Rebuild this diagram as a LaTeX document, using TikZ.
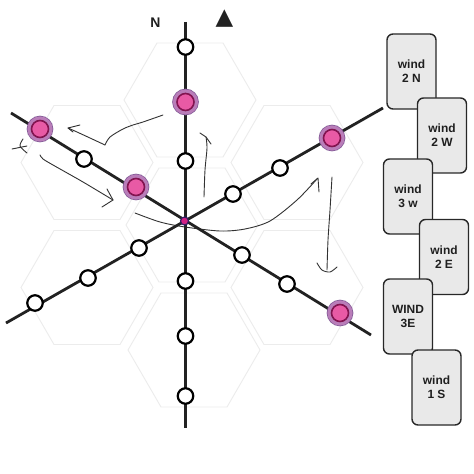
\documentclass[tikz,border=0pt]{standalone}
\usepackage{fontspec}
\setmainfont{Liberation Sans}
\newfontfamily\symfont{DejaVu Sans}
\definecolor{hexc}{RGB}{236,236,236}
\definecolor{axisc}{RGB}{34,34,34}
\definecolor{halo}{RGB}{185,125,185}
\definecolor{haloedge}{RGB}{130,90,150}
\definecolor{pinkin}{RGB}{232,90,165}
\definecolor{pinkedge}{RGB}{130,20,80}
\definecolor{cardfill}{RGB}{233,233,233}
\definecolor{cardedge}{RGB}{40,40,40}
\definecolor{centerfill}{RGB}{210,30,130}
\definecolor{centeredge}{RGB}{50,30,100}
\definecolor{sketchc}{RGB}{50,50,50}
\begin{document}
\begin{tikzpicture}[x=1bp,y=-1bp,
  hexline/.style={draw=hexc,line width=0.9bp},
  axisline/.style={draw=axisc,line width=2.8bp},
  wnode/.style={circle,fill=white,draw=black,line width=2.2bp,minimum size=15.5bp,inner sep=0pt},
  pnode/.style={circle,fill=pinkin,draw=pinkedge,line width=1.6bp,minimum size=17bp,inner sep=0pt,
     preaction={draw=haloedge,line width=9.5bp},
     preaction={draw=halo,line width=8bp}},
  cnode/.style={circle,fill=centerfill,draw=centeredge,line width=1.2bp,minimum size=8bp,inner sep=0pt},
  card/.style={rectangle,rounded corners=6bp,draw=cardedge,line width=1.4bp,fill=cardfill,
     minimum width=49bp,minimum height=75bp,inner sep=0pt,align=center,
     font=\bfseries\fontsize{12}{14}\selectfont,text=black!88},
  sketch/.style={draw=sketchc,line width=0.9bp,line cap=round,line join=round}]
\useasboundingbox[fill=white] (0,0) rectangle (474,474);

% hex grid
\foreach \cx/\cy in {190/100,87/162.5,297/162.5,192/225,87/287.5,297/287.5,194/350}{
  \draw[hexline] ({\cx+66},{\cy}) -- ({\cx+33},{\cy+57}) -- ({\cx-33},{\cy+57})
     -- ({\cx-66},{\cy}) -- ({\cx-33},{\cy-57}) -- ({\cx+33},{\cy-57}) -- cycle;
}

% hand-drawn strokes
\draw[sketch] plot[smooth] coordinates {(163,115) (143,122) (133,125) (123,129) (110,137) (105,145)};
\draw[sketch] plot[smooth] coordinates {(105,145) (90,138) (77,132) (68,128)};
\draw[sketch] (80,125) -- (68,128) -- (73,132);
\draw[sketch] (12,149) -- (27,146);
\draw[sketch] plot[smooth] coordinates {(23,139) (20,146) (27,153)};
\draw[sketch] plot[smooth] coordinates {(40,155) (43,159) (53,165) (83,182) (113,200)};
\draw[sketch] (107,189) -- (113,200) -- (102,207);
\draw[sketch] plot[smooth] coordinates {(204,197) (205,170) (207,148) (206,137)};
\draw[sketch] (200,133) -- (206,137) -- (211,144);
\draw[sketch] plot[smooth] coordinates {(135,213) (160,222) (185,227) (220,231) (245,229) (270,221) (297,200) (317,179)};
\draw[sketch] (311,184) -- (318,178) -- (319,192);
\draw[sketch] plot[smooth] coordinates {(332,177) (330,210) (328,240) (327,270)};
\draw[sketch] plot[smooth] coordinates {(317,263) (322,270) (330,272) (337,267)};

% axes
\coordinate (nTop) at (185.5,22);
\coordinate (sBot) at (185.5,428);
\coordinate (nwEnd) at (11,113);
\coordinate (seEnd) at (371,335);
\coordinate (swEnd) at (6,323);
\coordinate (neEnd) at (383,108);
\draw[axisline] (nTop) -- (sBot);
\draw[axisline] (nwEnd) -- (seEnd);
\draw[axisline] (swEnd) -- (neEnd);

% vertical axis nodes
\node[wnode] (v1) at (185.5,47) {};
\node[pnode] (v2) at (185.5,102) {};
\node[wnode] (v3) at (185.5,161) {};
\node[wnode] (v4) at (185.5,281) {};
\node[wnode] (v5) at (185.5,336) {};
\node[wnode] (v6) at (185.5,396) {};
% NW-SE nodes
\node[pnode] (a1) at (40,129) {};
\node[wnode] (a2) at (84,159) {};
\node[pnode] (a3) at (136,187) {};
\node[wnode] (a4) at (242,255) {};
\node[wnode] (a5) at (287,284) {};
\node[pnode] (a6) at (340,313) {};
% SW-NE nodes
\node[wnode] (b1) at (35,303) {};
\node[wnode] (b2) at (88,278) {};
\node[wnode] (b3) at (139,248) {};
\node[wnode] (b4) at (233,194) {};
\node[wnode] (b5) at (280,168) {};
\node[pnode] (b6) at (332,138) {};
% centre
\node[cnode] (ctr) at (184.5,221) {};

% labels
\node[font=\bfseries\fontsize{14}{16}\selectfont,text=black!88,inner sep=0pt] (north) at (155.5,22.5) {N};
\node[font=\symfont\fontsize{23}{23}\selectfont,text=axisc,inner sep=0pt] (tri) at (224.5,18.5) {▲};

% cards
\node[card] (c1) at (411.5,71.5) {wind\\2 N};
\node[card] (c2) at (442,135.5) {wind\\2 W};
\node[card] (c3) at (408,196.5) {wind\\3 w};
\node[card] (c4) at (444,257) {wind\\2 E};
\node[card] (c5) at (408,316.5) {WIND\\3E};
\node[card] (c6) at (436.5,387.5) {wind\\1 S};
\end{tikzpicture}
\end{document}
